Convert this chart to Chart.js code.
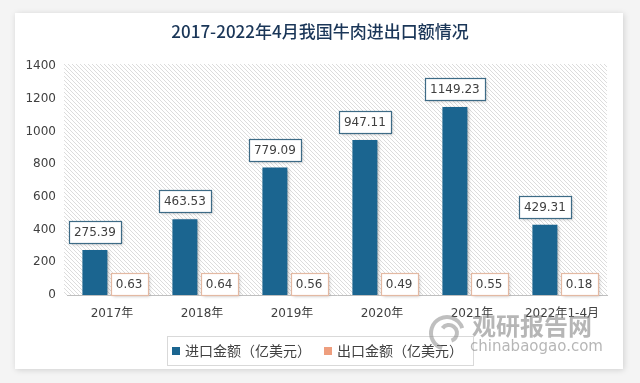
<!DOCTYPE html>
<html>
<head>
<meta charset="utf-8">
<script src="https://cdn.jsdelivr.net/npm/chart.js@4.4.1/dist/chart.umd.min.js"></script>
<style>
  html, body { margin: 0; padding: 0; background: #f4f4f4; }
  #wrap { width: 640px; height: 383px; }
</style>
</head>
<body>
<div id="wrap"><canvas id="beefChart" width="640" height="383"></canvas></div>
<script>
const chartTitle = '2017-2022年4月我国牛肉进出口额情况';
const categories = ['2017年', '2018年', '2019年', '2020年', '2021年', '2022年1-4月'];
const importValues = [275.39, 463.53, 779.09, 947.11, 1149.23, 429.31];
const exportValues = [0.63, 0.64, 0.56, 0.49, 0.55, 0.18];
const seriesNames = ['进口金额（亿美元）', '出口金额（亿美元）'];
const yMax = 1400;
const yStep = 200;

const BLUE = '#1b6590';
const ORANGE = '#ee9e7e';
const TEXT = '#404040';
const NUM_FONT = '12px "DejaVu Sans", "Noto Sans CJK SC"';
const CJK_FONT = '"Noto Sans CJK SC", "DejaVu Sans"';

// 배경 빗금 패턴
function makeHatch() {
  const p = document.createElement('canvas');
  p.width = 4; p.height = 4;
  const g = p.getContext('2d');
  g.fillStyle = '#ffffff';
  g.fillRect(0, 0, 4, 4);
  g.strokeStyle = '#dcdcdc';
  g.lineWidth = 1;
  g.beginPath();
  g.moveTo(0, 0); g.lineTo(4, 4);
  g.moveTo(-2, 2); g.lineTo(2, 6);
  g.moveTo(2, -2); g.lineTo(6, 2);
  g.stroke();
  return p;
}

function drawLabel(ctx, text, cx, cy, border) {
  ctx.font = NUM_FONT;
  const w = Math.round(ctx.measureText(text).width + 10);
  const h = 22;
  const x = Math.round(cx - w / 2) + 0.5;
  const y = Math.round(cy - h / 2) + 0.5;
  ctx.save();
  ctx.shadowColor = 'rgba(0,0,0,0.22)';
  ctx.shadowBlur = 3;
  ctx.shadowOffsetX = 1;
  ctx.shadowOffsetY = 1;
  ctx.fillStyle = '#ffffff';
  ctx.fillRect(x, y, w, h);
  ctx.restore();
  ctx.strokeStyle = border;
  ctx.lineWidth = 1.2;
  ctx.strokeRect(x, y, w, h);
  ctx.fillStyle = TEXT;
  ctx.textAlign = 'center';
  ctx.textBaseline = 'middle';
  ctx.fillText(text, cx, cy + 1);
}

const decorPlugin = {
  id: 'decor',
  beforeDraw(chart) {
    const ctx = chart.ctx;
    const a = chart.chartArea;
    ctx.save();
    ctx.fillStyle = '#f4f4f4';
    ctx.fillRect(0, 0, chart.width, chart.height);
    ctx.shadowColor = 'rgba(0,0,0,0.15)';
    ctx.shadowBlur = 6;
    ctx.shadowOffsetX = 1;
    ctx.shadowOffsetY = 1;
    ctx.fillStyle = '#ffffff';
    ctx.fillRect(15, 13, 608, 356);
    ctx.restore();

    ctx.save();
    ctx.fillStyle = ctx.createPattern(makeHatch(), 'repeat');
    ctx.fillRect(a.left - 3, a.top - 2, a.right - a.left + 3, a.bottom - a.top + 2);
    ctx.restore();

    // 제목
    ctx.save();
    ctx.fillStyle = '#1a3658';
    ctx.font = '500 17px ' + CJK_FONT;
    ctx.textAlign = 'center';
    ctx.textBaseline = 'middle';
    ctx.fillText(chartTitle, 320, 32);
    ctx.restore();
  },
  beforeDatasetsDraw(chart) {
    const ctx = chart.ctx;
    ctx.save();
    ctx.shadowColor = 'rgba(0,0,0,0.3)';
    ctx.shadowBlur = 3;
    ctx.shadowOffsetX = 2;
    ctx.shadowOffsetY = 1;
  },
  afterDatasetsDraw(chart) {
    const ctx = chart.ctx;
    ctx.restore();
    const m0 = chart.getDatasetMeta(0);
    const m1 = chart.getDatasetMeta(1);
    ctx.save();
    m0.data.forEach((bar, i) => {
      drawLabel(ctx, importValues[i].toFixed(2), bar.x, bar.y - 18, '#3d6b86');
    });
    m1.data.forEach((bar, i) => {
      drawLabel(ctx, exportValues[i].toFixed(2), bar.x, bar.y - 11, '#e3b9a3');
    });
    ctx.restore();
  },
  afterDraw(chart) {
    const ctx = chart.ctx;
    ctx.save();
    // 범례
    ctx.strokeStyle = '#d9d9d9';
    ctx.lineWidth = 1;
    ctx.strokeRect(167.5, 336.5, 306, 29);
    ctx.font = '14px ' + CJK_FONT;
    ctx.textBaseline = 'middle';
    ctx.textAlign = 'left';
    ctx.fillStyle = BLUE;
    ctx.fillRect(172, 347, 8, 8);
    ctx.fillStyle = TEXT;
    ctx.fillText(seriesNames[0], 185, 351);
    ctx.fillStyle = ORANGE;
    ctx.fillRect(324, 347, 8, 8);
    ctx.fillStyle = TEXT;
    ctx.fillText(seriesNames[1], 337, 351);

    // 워터마크
    ctx.globalAlpha = 0.55;
    ctx.strokeStyle = '#8a8a8a';
    ctx.lineWidth = 4;
    ctx.beginPath();
    ctx.arc(447, 333, 16, Math.PI * 0.6, Math.PI * 1.9);
    ctx.stroke();
    ctx.beginPath();
    ctx.arc(449, 333, 8, Math.PI * 1.2, Math.PI * 2.4);
    ctx.stroke();
    ctx.fillStyle = '#7a7a7a';
    ctx.font = 'bold 24px ' + CJK_FONT;
    ctx.textAlign = 'left';
    ctx.fillText('观研报告网', 472, 326);
    ctx.font = '15px "DejaVu Sans"';
    ctx.fillText('chinabaogao.com', 470, 347);
    ctx.restore();
  }
};

new Chart(document.getElementById('beefChart'), {
  type: 'bar',
  data: {
    labels: categories,
    datasets: [
      {
        label: seriesNames[0],
        data: importValues,
        backgroundColor: BLUE,
        categoryPercentage: 0.76,
        barPercentage: 0.73
      },
      {
        label: seriesNames[1],
        data: exportValues,
        backgroundColor: ORANGE,
        categoryPercentage: 0.76,
        barPercentage: 0.73
      }
    ]
  },
  options: {
    responsive: false,
    devicePixelRatio: 1,
    animation: false,
    layout: { padding: { left: 0, right: 33, top: 66, bottom: 48 } },
    plugins: {
      legend: { display: false },
      title: { display: false },
      tooltip: { enabled: false }
    },
    scales: {
      x: {
        grid: { display: false, drawTicks: false },
        border: { display: true, color: '#bfbfbf', width: 1 },
        ticks: { color: TEXT, font: { family: '"DejaVu Sans", "Noto Sans CJK SC"', size: 12 }, padding: 12, maxRotation: 0, autoSkip: false },
        afterFit(scale) { scale.height = 40; }
      },
      y: {
        min: 0,
        max: yMax,
        grid: { display: false, drawTicks: false },
        border: { display: false },
        ticks: {
          stepSize: yStep,
          color: TEXT,
          font: { family: '"DejaVu Sans"', size: 12 },
          padding: 11,
          callback: (v) => String(v)
        },
        afterFit(scale) { scale.width = 67; }
      }
    }
  },
  plugins: [decorPlugin]
});
</script>
</body>
</html>
